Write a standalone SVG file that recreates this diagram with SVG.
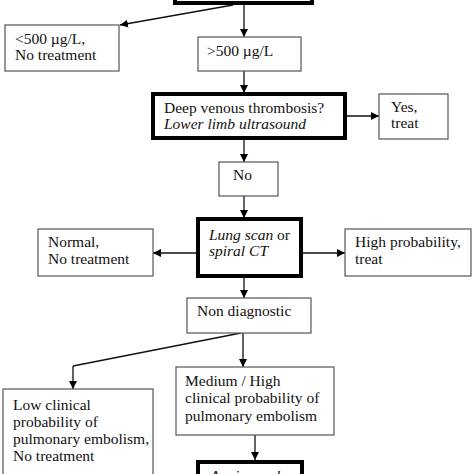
<svg xmlns="http://www.w3.org/2000/svg" width="474" height="474" viewBox="0 0 474 474">
<defs>
<marker id="ah" viewBox="0 0 10 10" refX="10" refY="5" markerWidth="8" markerHeight="8" markerUnits="userSpaceOnUse" orient="auto">
<path d="M0,0 L10,5 L0,10 z" fill="#000"/>
</marker>
</defs>
<style>
.thin{fill:#fff;stroke:#555;stroke-width:1.2}
.thick{fill:#fff;stroke:#000;stroke-width:4}
text{font-family:"Liberation Serif","Times New Roman",serif;font-size:15.5px;fill:#111}
.it{font-style:italic}
.c{fill:none;stroke:#111;stroke-width:1.3;marker-end:url(#ah)}
.cl{fill:none;stroke:#111;stroke-width:1.3}
</style>
<rect width="474" height="474" fill="#fff"/>
<g id="connectors">
<path class="c" d="M233,5 L120,25"/>
<path class="c" d="M244,5 L244,37"/>
<path class="c" d="M244,71 L244,93"/>
<path class="c" d="M346,116 L379,116"/>
<path class="c" d="M244,139 L244,162"/>
<path class="c" d="M244,196 L244,218"/>
<path class="c" d="M197,253 L153,253"/>
<path class="c" d="M302,253 L345,253"/>
<path class="c" d="M244,277 L244,298"/>
<path class="c" d="M243,333 L243,367"/>
<path class="cl" d="M241,333 L73,366"/>
<path class="c" d="M73,366 L73,389"/>
<path class="c" d="M255,435 L255,460"/>
</g>
<g id="n0"><rect class="thick" x="175" y="-40" width="137" height="43"/></g>
<g id="n1"><rect class="thin" x="5" y="25" width="114" height="46"/>
<text x="15" y="44">&lt;500 µg/L,</text><text x="15" y="60">No treatment</text></g>
<g id="n2"><rect class="thin" x="198" y="37" width="103" height="34"/>
<text x="207" y="56">&gt;500 µg/L</text></g>
<g id="n3"><rect class="thick" x="153" y="94" width="192" height="44"/>
<text x="164" y="113">Deep venous thrombosis?</text><text class="it" x="164" y="129">Lower limb ultrasound</text></g>
<g id="n4"><rect class="thin" x="379" y="94" width="69" height="45"/>
<text x="391" y="112">Yes,</text><text x="391" y="128">treat</text></g>
<g id="n5"><rect class="thin" x="219" y="162" width="59" height="34"/>
<text x="233" y="180">No</text></g>
<g id="n6"><rect class="thick" x="198" y="219" width="103" height="57"/>
<text x="209" y="240"><tspan class="it">Lung scan</tspan> or</text><text class="it" x="209" y="256">spiral CT</text></g>
<g id="n7"><rect class="thin" x="38" y="229" width="115" height="47"/>
<text x="48" y="247">Normal,</text><text x="48" y="264">No treatment</text></g>
<g id="n8"><rect class="thin" x="345" y="229" width="126" height="47"/>
<text x="355" y="247">High probability,</text><text x="355" y="264">treat</text></g>
<g id="n9"><rect class="thin" x="187" y="298" width="124" height="35"/>
<text x="197" y="316">Non diagnostic</text></g>
<g id="n10"><rect class="thin" x="3" y="389" width="150" height="100"/>
<text x="13" y="410">Low clinical</text><text x="13" y="427">probability of</text><text x="13" y="444">pulmonary embolism,</text><text x="13" y="461">No treatment</text></g>
<g id="n11"><rect class="thin" x="176" y="367" width="158" height="68"/>
<text x="185" y="386">Medium / High</text><text x="185" y="403">clinical probability of</text><text x="185" y="421">pulmonary embolism</text></g>
<g id="n12"><rect class="thick" x="198" y="462" width="104" height="40"/>
<text class="it" x="210" y="481">Angiography</text></g>
</svg>
